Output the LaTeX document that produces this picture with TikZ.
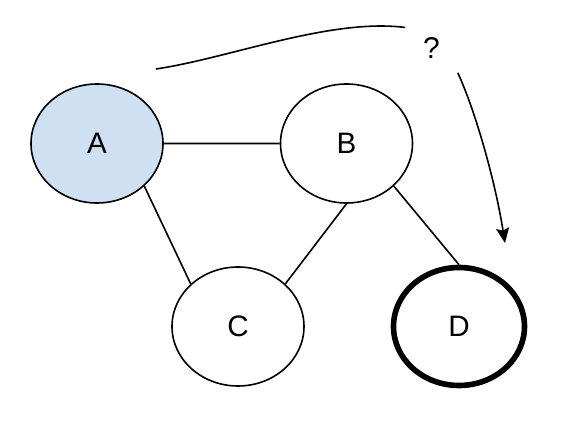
\documentclass[tikz,border=0pt]{standalone}
\usepackage{fontspec}
\setmainfont{Liberation Sans}
\usepackage{tikz}
\usetikzlibrary{arrows.meta, positioning, shapes.geometric}
\definecolor{visitblue}{HTML}{CFE0F2}

\begin{document}
\begin{tikzpicture}[on grid,>={Stealth[length=7.5pt,width=6.5pt,inset=1.2pt]},
        vertex/.style={ellipse,draw,line width=0.8pt,minimum width=66pt,minimum height=59.5pt,
            inner sep=0pt,font=\fontsize{14.8pt}{17pt}\selectfont},
        visited/.style={vertex,fill=visitblue},
        goal/.style={vertex,line width=2.8pt,minimum width=65.5pt,minimum height=59pt},
        every path/.style={line width=0.8pt}]
        \useasboundingbox (-48.5pt,-139.25pt) rectangle (235.5pt,71.75pt);

        \node[visited] (A) {A};
        \node[vertex] (B) [right=124.75pt of A] {B};
        \node[vertex] (C) [below left=91.5pt and 54.25pt of B] {C};
        \node[goal] (D) [right=110.5pt of C] {D};

        \draw (A.east) -- (B.west)
              (A.-42) -- (C.138)
              (B.south) -- (C.42)
              (B.-42) -- (D.north);

        % the guess
        \node[minimum width=25.5pt,minimum height=24pt,inner sep=0pt,
            font=\fontsize{15pt}{17pt}\selectfont] (q) at (167.25pt,47.75pt) {?};
        \coordinate (s) at (29.5pt,37.25pt);
        \coordinate (t) at (204pt,-49.75pt);
        \draw (s) .. controls (66.5pt,42.75pt) and (116.5pt,62.75pt) .. (q.142);
        \draw[->] (q.south east) .. controls (189pt,16.75pt) and (199pt,-18.25pt) .. (t);
    \end{tikzpicture}
\end{document}
